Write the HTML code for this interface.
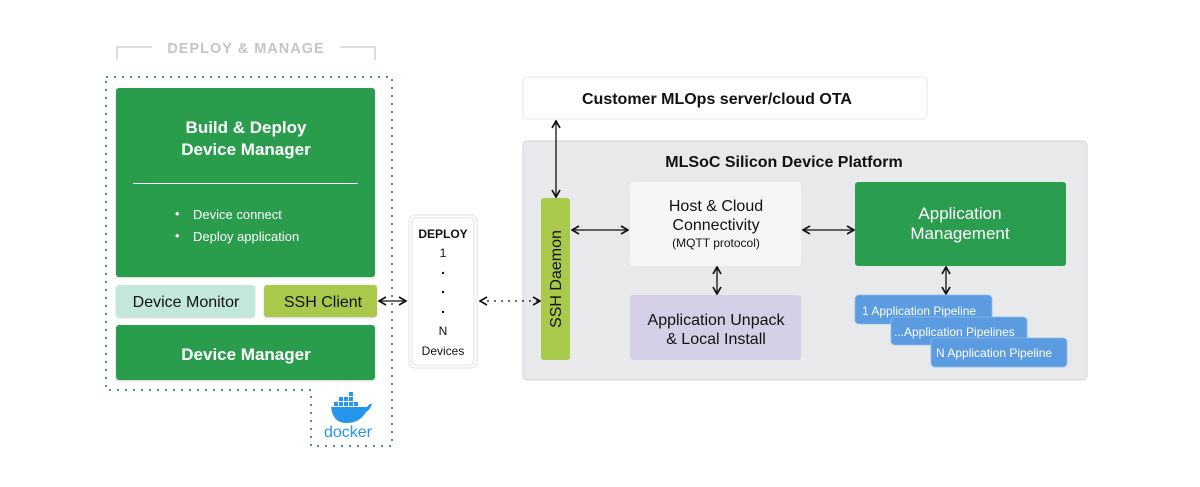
<!DOCTYPE html>
<html><head><meta charset="utf-8"><style>
html,body{margin:0;padding:0;background:#fff;}
svg{display:block;font-family:"Liberation Sans",sans-serif;}
</style></head><body>
<svg width="1200" height="487" viewBox="0 0 1200 487" xmlns="http://www.w3.org/2000/svg">
<defs>
<marker id="ah" viewBox="0 0 10 10" refX="9" refY="5" markerWidth="10" markerHeight="10" orient="auto-start-reverse" markerUnits="userSpaceOnUse">
<path d="M2,1 L9,5 L2,9" fill="none" stroke="#111" stroke-width="1.7"/></marker>
<filter id="sh" x="-5%" y="-5%" width="110%" height="115%"><feDropShadow dx="0" dy="1" stdDeviation="1" flood-color="#000" flood-opacity="0.18"/></filter>
</defs>
<!-- bracket -->
<polyline points="117,60 117,47 152,47" fill="none" stroke="#c8c8c8" stroke-width="1.2"/>
<polyline points="340,47 375,47 375,60" fill="none" stroke="#c8c8c8" stroke-width="1.2"/>
<text x="246" y="53" text-anchor="middle" font-size="14.5" font-weight="bold" fill="#c4c4c4" letter-spacing="1">DEPLOY &amp; MANAGE</text>
<!-- dotted container -->
<path d="M106,77 L392,77 L392,446 L311,446 L311,390 L106,390 Z" fill="none" stroke="#4a86d8" stroke-width="2" stroke-dasharray="2,6"/>
<!-- build box -->
<rect x="116" y="88" width="259" height="189" rx="3" fill="#2a9d4e" filter="url(#sh)"/>
<text x="246" y="133" text-anchor="middle" font-size="17" font-weight="bold" fill="#fff">Build &amp; Deploy</text>
<text x="246" y="155" text-anchor="middle" font-size="17" font-weight="bold" fill="#fff">Device Manager</text>
<line x1="133" y1="183.5" x2="358" y2="183.5" stroke="#fff" stroke-width="1"/>
<text x="175" y="218" font-size="13" fill="#fff">•</text>
<text x="193" y="219" font-size="13" fill="#fff">Device connect</text>
<text x="175" y="240" font-size="13" fill="#fff">•</text>
<text x="193" y="241" font-size="13" fill="#fff">Deploy application</text>
<rect x="116" y="285" width="139" height="32" rx="3" fill="#c2e8dc" filter="url(#sh)"/>
<text x="186" y="307" text-anchor="middle" font-size="16" fill="#111">Device Monitor</text>
<rect x="264" y="285" width="113" height="32" rx="3" fill="#a8c94a" filter="url(#sh)"/>
<text x="323" y="307" text-anchor="middle" font-size="16" fill="#111">SSH Client</text>
<rect x="116" y="325" width="259" height="55" rx="3" fill="#2a9d4e" filter="url(#sh)"/>
<text x="246" y="360" text-anchor="middle" font-size="17" font-weight="bold" fill="#fff">Device Manager</text>
<line x1="379" y1="301" x2="406" y2="301" stroke="#111" stroke-width="1.3" marker-start="url(#ah)" marker-end="url(#ah)"/>
<!-- deploy box -->
<rect x="409" y="215" width="68" height="153" rx="6" fill="#fff" stroke="#e2e2e2" stroke-width="1"/>
<rect x="412" y="218" width="62" height="147" rx="4" fill="#fff" stroke="#e2e2e2" stroke-width="1"/>
<text x="443" y="238" text-anchor="middle" font-size="12" font-weight="bold" fill="#111">DEPLOY</text>
<text x="443" y="257" text-anchor="middle" font-size="12" fill="#111">1</text>
<circle cx="443" cy="273" r="1.2" fill="#111"/>
<circle cx="443" cy="292" r="1.2" fill="#111"/>
<circle cx="443" cy="312" r="1.2" fill="#111"/>
<text x="443" y="335" text-anchor="middle" font-size="12" fill="#111">N</text>
<text x="443" y="355" text-anchor="middle" font-size="12" fill="#111">Devices</text>
<!-- docker -->
<g fill="#2496ed">
<path d="M331,407 L367,407 Q370,403 372,404 Q370,410 366,412 Q360,423 346,423 Q333,423 331,407 Z"/>
<rect x="334" y="402" width="4" height="4"/><rect x="339" y="402" width="4" height="4"/><rect x="344" y="402" width="4" height="4"/><rect x="349" y="402" width="4" height="4"/><rect x="354" y="402" width="4" height="4"/>
<rect x="339" y="397" width="4" height="4"/><rect x="344" y="397" width="4" height="4"/><rect x="349" y="397" width="4" height="4"/>
<rect x="349" y="392" width="4" height="4"/>
</g>
<text x="348" y="437" text-anchor="middle" font-size="16" fill="#2496ed">docker</text>
<!-- customer -->
<rect x="523" y="77" width="404" height="42" rx="4" fill="#fff" stroke="#e6e6e6" stroke-width="1"/>
<text x="717" y="104" text-anchor="middle" font-size="16" font-weight="bold" fill="#111">Customer MLOps server/cloud OTA</text>
<!-- platform -->
<rect x="523" y="141" width="564" height="239" rx="4" fill="#e8e9eb" stroke="#d4d5d8" stroke-width="1"/>
<text x="784" y="167" text-anchor="middle" font-size="16" font-weight="bold" fill="#111">MLSoC Silicon Device Platform</text>
<line x1="556" y1="121" x2="556" y2="197" stroke="#111" stroke-width="1.3" marker-start="url(#ah)" marker-end="url(#ah)"/>
<rect x="541" y="198" width="29" height="162" rx="3" fill="#a8c94a"/>
<text transform="translate(561,279) rotate(-90)" text-anchor="middle" font-size="16" fill="#111">SSH Daemon</text>
<line x1="572" y1="230" x2="628" y2="230" stroke="#111" stroke-width="1.3" marker-start="url(#ah)" marker-end="url(#ah)"/>
<rect x="630" y="182" width="171" height="84" rx="3" fill="#f5f6f7"/>
<text x="716" y="211" text-anchor="middle" font-size="16" fill="#111">Host &amp; Cloud</text>
<text x="716" y="230" text-anchor="middle" font-size="16" fill="#111">Connectivity</text>
<text x="716" y="247" text-anchor="middle" font-size="12" fill="#111">(MQTT protocol)</text>
<line x1="803" y1="230" x2="854" y2="230" stroke="#111" stroke-width="1.3" marker-start="url(#ah)" marker-end="url(#ah)"/>
<rect x="855" y="182" width="211" height="84" rx="3" fill="#2a9d4e"/>
<text x="960" y="219" text-anchor="middle" font-size="17" fill="#fff">Application</text>
<text x="960" y="239" text-anchor="middle" font-size="17" fill="#fff">Management</text>
<line x1="717" y1="267" x2="717" y2="294" stroke="#111" stroke-width="1.3" marker-start="url(#ah)" marker-end="url(#ah)"/>
<rect x="630" y="295" width="171" height="65" rx="3" fill="#d4cfe6"/>
<text x="716" y="325" text-anchor="middle" font-size="16" fill="#111">Application Unpack</text>
<text x="716" y="344" text-anchor="middle" font-size="16" fill="#111">&amp; Local Install</text>
<line x1="946" y1="267" x2="946" y2="294" stroke="#111" stroke-width="1.3" marker-start="url(#ah)" marker-end="url(#ah)"/>
<rect x="855" y="295" width="137" height="29" rx="4" fill="#5b9be0" stroke="#8fbcec" stroke-width="0.8"/>
<text x="862" y="315" font-size="12" fill="#fff">1 Application Pipeline</text>
<rect x="891" y="317" width="136" height="28" rx="4" fill="#5b9be0" stroke="#8fbcec" stroke-width="0.8"/>
<text x="894" y="336" font-size="12" fill="#fff">...Application Pipelines</text>
<rect x="931" y="338" width="136" height="29" rx="4" fill="#5b9be0" stroke="#8fbcec" stroke-width="0.8"/>
<text x="936" y="357" font-size="12" fill="#fff">N Application Pipeline</text>
<!-- dotted arrow on top -->
<line x1="480" y1="301" x2="540" y2="301" stroke="#111" stroke-width="1.2" stroke-dasharray="2,5" marker-start="url(#ah)" marker-end="url(#ah)"/>
</svg>
</body></html>
